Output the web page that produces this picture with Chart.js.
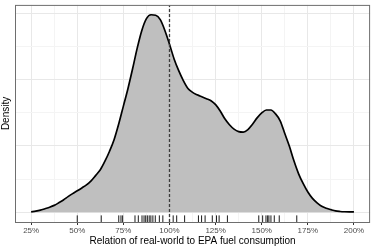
<!DOCTYPE html>
<html>
<head>
<meta charset="utf-8">
<script src="https://cdn.jsdelivr.net/npm/chart.js@4"></script>
<style>
  html, body { margin: 0; padding: 0; background: #fff; }
  #wrap { width: 375px; height: 247px; }
</style>
</head>
<body>
<div id="wrap"><canvas id="grafica" width="375" height="247"></canvas></div>
<script>
// density estimate, x in % of EPA value
let ratioPct = [25, 27.5, 30, 32.5, 35, 37.5, 40, 42.5, 45, 47.5, 50, 52.5, 55, 57.5, 60, 62.5, 65, 67.5, 70, 72.5,
    75, 77.5, 80, 82.5, 85, 87.5, 90, 92.5, 95, 97.5, 100, 102.5, 105, 107.5, 110, 112.5, 115, 117.5, 120, 122.5,
    125, 127.5, 130, 132.5, 135, 137.5, 140, 142.5, 145, 147.5, 150, 152.5, 155, 157.5, 160, 162.5, 165, 167.5, 170, 172.5,
    175, 177.5, 180, 182.5, 185, 187.5, 190, 192.5, 195, 197.5, 200];
let densidad = [0.005, 0.015, 0.030, 0.052, 0.074, 0.102, 0.141, 0.183, 0.234, 0.280, 0.322, 0.366, 0.412, 0.473, 0.555, 0.640, 0.769, 0.920, 1.098, 1.335,
    1.602, 1.869, 2.166, 2.478, 2.745, 2.923, 2.982, 2.975, 2.908, 2.745, 2.537, 2.315, 2.137, 1.988, 1.869, 1.810, 1.773, 1.743, 1.714, 1.684,
    1.625, 1.528, 1.410, 1.320, 1.254, 1.217, 1.209, 1.246, 1.328, 1.424, 1.499, 1.543, 1.543, 1.484, 1.380, 1.187, 0.994, 0.772, 0.579, 0.430,
    0.304, 0.208, 0.141, 0.089, 0.059, 0.037, 0.018, 0.010, 0.006, 0.004, 0.003];

// individual cars (rug)
let observaciones = [50, 63, 72.5, 73.7, 74.6, 81.3, 83.1, 85.1, 86.2, 87.1, 88.0, 89.0, 89.9, 91.0, 92.3, 94.5, 96.4,
    102.0, 103.9, 108.2, 115.7, 117.4, 119.3, 123.2, 125.5, 126.9, 131.4,
    148.4, 150.5, 152.3, 153.2, 153.9, 155.0, 156.8, 159.5, 169.0];

let referencia = 100;
let xTicks = [25, 37.5, 50, 62.5, 75, 87.5, 100, 112.5, 125, 137.5, 150, 162.5, 175, 187.5, 200];
let yTicks = [0, 0.5, 1, 1.5, 2, 2.5, 3];

let xMin = 16.25, xMax = 208.75;
let yMin = -0.149, yMax = 3.131;

let puntosDensidad = ratioPct.map((x, i) => ({ x: x, y: densidad[i] }));
let puntosRug = observaciones.map(x => ({ x: x, y: yMin + 0.05 }));

let fuente = "'Liberation Sans', Arial, sans-serif";

function esMayor(v) {
    return Math.abs(v % 25) < 1e-9;
}

let bordePanel = {
    id: 'bordePanel',
    afterDraw(chart) {
        let a = chart.chartArea;
        let ctx = chart.ctx;
        ctx.save();
        ctx.strokeStyle = '#6e6e6e';
        ctx.lineWidth = 1;
        ctx.strokeRect(a.left + 0.5, a.top + 0.5, a.right - a.left - 1, a.bottom - a.top);
        ctx.restore();
    }
};

let ctx = document.getElementById('grafica').getContext('2d');
let grafica = new Chart(ctx, {
    type: 'line',
    data: {
        datasets: [
            {
                data: [{ x: referencia, y: yMin }, { x: referencia, y: yMax }],
                borderColor: '#3d3d3d',
                borderWidth: 1.3,
                borderDash: [3, 2],
                pointRadius: 0,
                fill: false,
                order: 0
            },
            {
                data: puntosDensidad,
                borderColor: '#000',
                borderWidth: 1.7,
                backgroundColor: '#bfbfbf',
                fill: 'origin',
                pointRadius: 0,
                cubicInterpolationMode: 'monotone',
                order: 1
            },
            {
                type: 'scatter',
                data: puntosRug,
                pointStyle: 'line',
                rotation: 90,
                radius: 3.3,
                borderColor: '#000',
                borderWidth: 0.9,
                showLine: false,
                order: 2
            }
        ]
    },
    options: {
        responsive: false,
        animation: false,
        devicePixelRatio: 1,
        layout: { padding: { top: 0, right: 1, left: 0, bottom: 0 } },
        plugins: {
            legend: { display: false },
            tooltip: { enabled: false }
        },
        scales: {
            x: {
                type: 'linear',
                min: xMin,
                max: xMax,
                afterBuildTicks: scale => { scale.ticks = xTicks.map(v => ({ value: v })); },
                afterFit: scale => { scale.height = 25; },
                border: { display: false },
                grid: {
                    color: c => esMayor(c.tick.value) ? '#e8e8e8' : '#f4f4f4',
                    lineWidth: 1,
                    tickLength: 3,
                    tickColor: c => esMayor(c.tick.value) ? '#333' : 'rgba(0,0,0,0)'
                },
                ticks: {
                    autoSkip: false,
                    maxRotation: 0,
                    padding: 1,
                    color: '#4d4d4d',
                    font: { family: fuente, size: 8 },
                    callback: v => esMayor(v) ? v + '%' : ''
                },
                title: {
                    display: true,
                    text: 'Relation of real-world to EPA fuel consumption',
                    color: '#000',
                    font: { family: fuente, size: 10 },
                    padding: 0
                }
            },
            y: {
                type: 'linear',
                min: yMin,
                max: yMax,
                afterBuildTicks: scale => { scale.ticks = yTicks.map(v => ({ value: v })); },
                afterFit: scale => { scale.width = 15; },
                border: { display: false },
                grid: {
                    color: c => (c.tick.value % 1 === 0) ? '#e8e8e8' : '#f4f4f4',
                    lineWidth: 1,
                    drawTicks: false
                },
                ticks: { display: false },
                title: {
                    display: true,
                    text: 'Density',
                    color: '#000',
                    font: { family: fuente, size: 10 },
                    padding: 0
                }
            }
        }
    },
    plugins: [bordePanel]
});
</script>
</body>
</html>
